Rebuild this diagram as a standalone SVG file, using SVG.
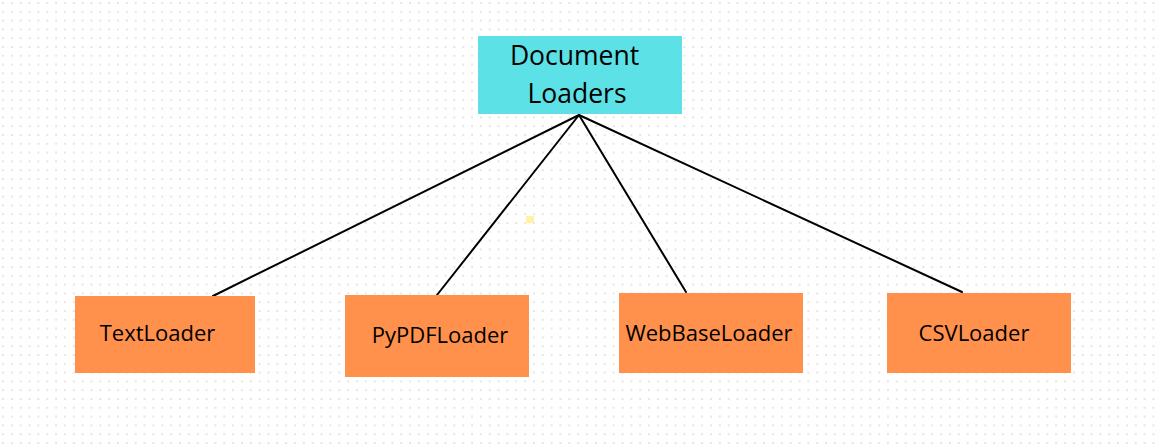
<svg xmlns="http://www.w3.org/2000/svg" width="1155" height="447" viewBox="0 0 1155 447">
<defs>
<pattern id="dots" x="2" y="2" width="8.85" height="8.8" patternUnits="userSpaceOnUse">
<rect x="0" y="0" width="2" height="2" fill="#e6e6e6"/>
</pattern>
<style>
.lbl{font-family:"Open Sans","Liberation Sans",sans-serif;fill:#000;}
.sub{fill:#ff914d;}
.top{fill:#5ce1e6;}
.conn{stroke:#000;stroke-width:2;fill:none;stroke-linecap:round;}
</style>
</defs>
<rect width="1155" height="447" fill="#ffffff"/>
<rect width="1155" height="447" fill="url(#dots)"/>
<rect x="526" y="216" width="8" height="7" fill="#fff3a3"/>
<g id="connectors">
<line class="conn" x1="579" y1="115" x2="213" y2="296"/>
<line class="conn" x1="579" y1="115" x2="437" y2="295"/>
<line class="conn" x1="579" y1="115" x2="686" y2="292"/>
<line class="conn" x1="579" y1="115" x2="962" y2="292"/>
</g>
<g id="document-loaders">
<rect class="top" x="478" y="36" width="204" height="78"/>
<text class="lbl" x="574.5" y="65" font-size="26.5" text-anchor="middle">Document</text>
<text class="lbl" x="577" y="103" font-size="26.5" text-anchor="middle">Loaders</text>
</g>
<g id="textloader">
<rect class="sub" x="75" y="296" width="180" height="77"/>
<text class="lbl" x="157.5" y="341" font-size="22" text-anchor="middle">TextLoader</text>
</g>
<g id="pypdfloader">
<rect class="sub" x="345" y="295" width="184" height="82"/>
<text class="lbl" x="440" y="343" font-size="22" text-anchor="middle">PyPDFLoader</text>
</g>
<g id="webbaseloader">
<rect class="sub" x="619" y="293" width="184" height="80"/>
<text class="lbl" x="709" y="341" font-size="22" text-anchor="middle">WebBaseLoader</text>
</g>
<g id="csvloader">
<rect class="sub" x="887" y="293" width="184" height="80"/>
<text class="lbl" x="974" y="341" font-size="22" text-anchor="middle">CSVLoader</text>
</g>
</svg>
